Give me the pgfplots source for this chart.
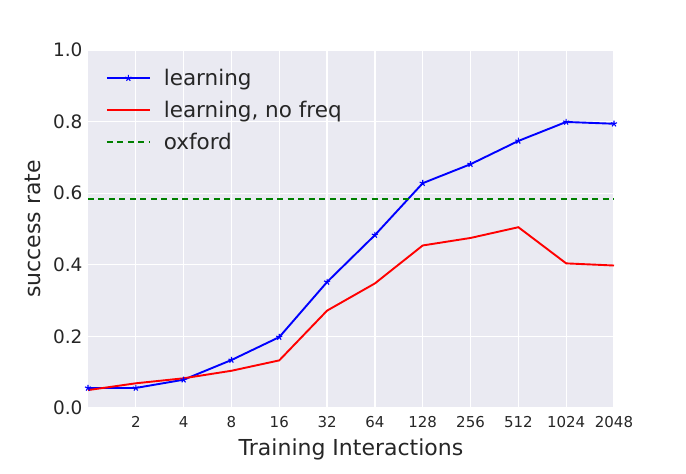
\documentclass[border=0pt]{standalone}
\usepackage{pgfplots}
\pgfplotsset{compat=1.18}
\usepackage{fontspec}
\setmainfont{DejaVu Sans}
\definecolor{bgc}{HTML}{EAEAF2}
\definecolor{txt}{HTML}{262626}
\definecolor{mgreen}{rgb}{0,0.5,0}
\begin{document}
\begin{tikzpicture}
\begin{axis}[
  scale only axis,
  width=526pt, height=358pt,
  xmode=log, log basis x=2,
  xmin=1, xmax=2048, ymin=0, ymax=1,
  xtick={2,4,8,16,32,64,128,256,512,1024,2048},
  xticklabels={2,4,8,16,32,64,128,256,512,1024,2048},
  ytick={0,0.2,0.4,0.6,0.8,1.0},
  yticklabel style={/pgf/number format/fixed,/pgf/number format/precision=1,/pgf/number format/fixed zerofill},
  /pgf/number format/assume math mode=true,
  x tick label style={font=\fontsize{15}{18}\selectfont, text=txt, yshift=-5pt},
  y tick label style={font=\fontsize{18.5}{22}\selectfont, text=txt, xshift=-2pt},
  axis background/.style={fill=bgc},
  axis line style={draw=none},
  major tick length=0pt,
  tick style={draw=none},
  grid=major,
  major grid style={white, line width=1.2pt},
  xlabel={Training Interactions},
  ylabel={success rate},
  label style={font=\fontsize{22}{26}\selectfont, text=txt},
  xlabel style={at={(axis description cs:0.5,-0.117)}, anchor=center},
  ylabel style={at={(axis description cs:-0.1046,0.5)}, anchor=center},
  legend style={at={(axis description cs:0.028,0.958)}, anchor=north west, draw=none, fill=none,
    font=\fontsize{21.5}{24}\selectfont, text=txt, row sep=10pt, column sep=11pt, cells={anchor=west}},
  legend image code/.code={\draw[#1] (0pt,0pt) -- (43pt,0pt); \draw[#1, only marks] plot coordinates {(21.5pt,0pt)};},
  legend cell align=left,
]
\addplot[blue, line width=1.9pt, mark=star, mark size=3.2pt, mark options={line width=1.1pt}] coordinates {
(1,0.056) (2,0.056) (4,0.079) (8,0.134) (16,0.198) (32,0.352) (64,0.483)
(128,0.628) (256,0.681) (512,0.746) (1024,0.799) (2048,0.794)};
\addlegendentry{learning}
\addplot[red, line width=1.9pt] coordinates {
(1,0.050) (2,0.069) (4,0.083) (8,0.104) (16,0.133) (32,0.272) (64,0.348)
(128,0.454) (256,0.475) (512,0.505) (1024,0.404) (2048,0.398)};
\addlegendentry{learning, no freq}
\addplot[draw=mgreen, line width=1.9pt, dash pattern=on 6pt off 4.5pt] coordinates {(1,0.583) (2048,0.583)};
\addlegendentry{oxford}
\end{axis}
\path (current axis.south west) ++(-88pt,-66pt) rectangle ++(686pt,474pt);
\end{tikzpicture}
\end{document}
